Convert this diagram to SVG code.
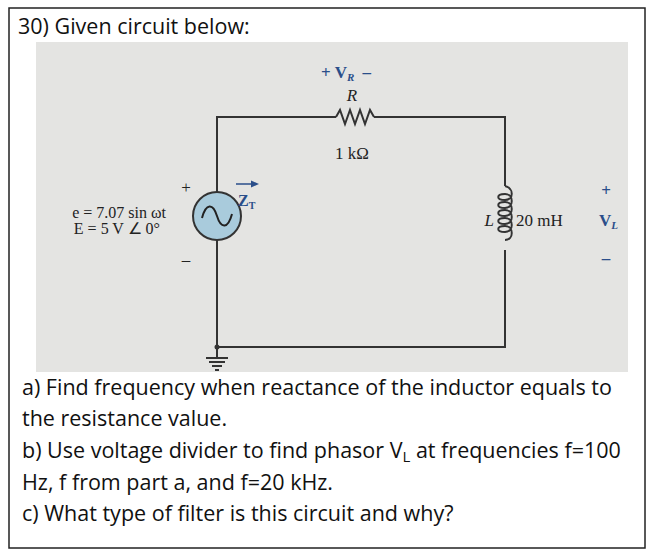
<svg xmlns="http://www.w3.org/2000/svg" width="654" height="556" viewBox="0 0 654 556">
<style>
.t{font-family:"Open Sans","Liberation Sans",sans-serif;font-size:21.5px;fill:#111}
.s{font-family:"Liberation Serif",serif;fill:#222}
.b{font-family:"Liberation Serif",serif;fill:#2a4e8a;font-weight:bold}
.w{stroke:#333;stroke-width:2;fill:none}
</style>
<rect x="0" y="0" width="654" height="556" fill="#fff"/>
<rect x="9" y="8" width="636" height="540" fill="none" stroke="#222" stroke-width="1.5"/>
<text class="t" x="18" y="34" font-size="20">30) Given circuit below:</text>
<rect x="36" y="42" width="592" height="330" fill="#e4e4e2"/>
<g id="connectors">
<path class="w" d="M217,192 V117 H336 M374,117 H505 V186 M505,250 V347 H217 V240 M217,347 V358"/>
</g>
<g id="resistor"><path class="w" d="M336,117 l4,-7 l5,14 l5,-14 l5,14 l5,-14 l5,14 l5,-14 l4,7"/>
<text class="s" x="352" y="101" font-size="17" font-style="italic" text-anchor="middle">R</text>
<text class="s" x="352" y="159" font-size="17" text-anchor="middle">1 kΩ</text>
<text class="b" x="346" y="78" font-size="17" text-anchor="middle">+ V<tspan font-size="11" dy="3" font-style="italic">R</tspan><tspan dy="-3" dx="8">–</tspan></text></g>
<g id="source"><circle cx="217" cy="216" r="24" fill="#a9cbdc" stroke="#333" stroke-width="2"/>
<path d="M202,218 c4,-15 11,-15 15,-2 c4,13 11,13 15,-2" stroke="#222" stroke-width="2" fill="none"/>
<text class="s" x="186" y="193" font-size="17" text-anchor="middle">+</text>
<text class="s" x="186" y="265" font-size="17" text-anchor="middle">–</text>
<text class="s" x="166" y="218" font-size="16" text-anchor="end">e = 7.07 sin ωt</text>
<text class="s" x="160" y="234" font-size="16" text-anchor="end">E = 5 V ∠ 0°</text>
<path d="M236,184 h17" stroke="#2a4e8a" stroke-width="1.5"/><path d="M259,184 l-8,-3.5 v7z" fill="#2a4e8a"/>
<text class="b" x="238" y="206" font-size="16">Z<tspan font-size="10" dy="3">T</tspan></text></g>
<g id="inductor"><path class="w" d="M505,186 c9,2 9,14 0,14 c-9,0 -9,-6 0,-6 c9,0 9,14 0,14 c-9,0 -9,-6 0,-6 c9,0 9,14 0,14 c-9,0 -9,-6 0,-6 c9,0 9,14 0,14 c-9,0 -9,-6 0,-6 c9,0 9,14 0,14 c-9,0 -9,-6 0,-6 c9,0 9,14 0,14"/>
<text class="s" x="494" y="226" font-size="17" font-style="italic" text-anchor="end">L</text>
<text class="s" x="516" y="226" font-size="17">20 mH</text>
<text class="b" x="606" y="196" font-size="17" text-anchor="middle">+</text>
<text class="b" x="599" y="226" font-size="17">V<tspan font-size="11" dy="3" font-style="italic">L</tspan></text>
<text class="b" x="606" y="264" font-size="17" text-anchor="middle">–</text></g>
<g id="ground"><circle cx="217" cy="347" r="2.5" fill="#333"/><path class="w" d="M206,358 h22 M209,362 h16 M212,366 h10 M215,370 h4"/></g>
<text class="t" x="22" y="395">a) Find frequency when reactance of the inductor equals to</text>
<text class="t" x="22" y="426">the resistance value.</text>
<text class="t" x="22" y="458">b) Use voltage divider to find phasor V<tspan font-size="15" dy="4">L</tspan><tspan dy="-4"> at frequencies f=100</tspan></text>
<text class="t" x="22" y="490">Hz, f from part a, and f=20 kHz.</text>
<text class="t" x="22" y="521">c) What type of filter is this circuit and why?</text>
</svg>
